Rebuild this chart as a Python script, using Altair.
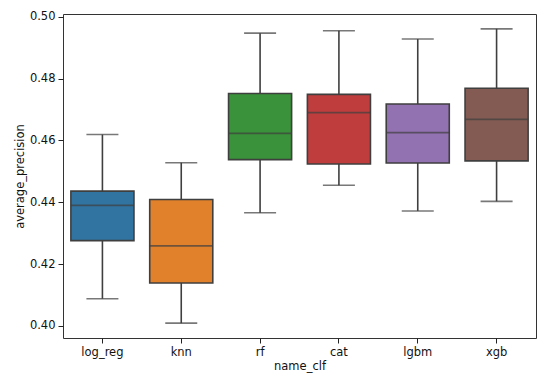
import altair as alt
import pandas as pd

categories = ["log_reg", "knn", "rf", "cat", "lgbm", "xgb"]
whisker_low = [0.4088, 0.4009, 0.4366, 0.4455, 0.4372, 0.4403]
q1 = [0.4276, 0.4139, 0.4538, 0.4524, 0.4527, 0.4534]
median = [0.4390, 0.4259, 0.4623, 0.4690, 0.4625, 0.4668]
q3 = [0.4436, 0.4409, 0.4752, 0.4749, 0.4718, 0.4769]
whisker_high = [0.4619, 0.4528, 0.4947, 0.4955, 0.4928, 0.4961]
colors = ["#3274a1", "#e1812c", "#3a923a", "#c03d3e", "#9372b2", "#845b53"]

df = pd.DataFrame({
    "name_clf": categories,
    "lo": whisker_low,
    "q1": q1,
    "med": median,
    "q3": q3,
    "hi": whisker_high,
})

edge = "#3f3f3f"
font = "DejaVu Sans"

x = alt.X(
    "name_clf:N",
    sort=categories,
    title="name_clf",
    scale=alt.Scale(paddingInner=0.2, paddingOuter=0.1),
    axis=alt.Axis(labelAngle=0, tickSize=5, labelPadding=3, titlePadding=3,
                  domain=False, tickColor="#222", labelColor="#111",
                  labelFont=font, titleFont=font, labelFontSize=11.5,
                  titleFontSize=11.5, titleFontWeight="normal", titleColor="#111"),
)
yscale = alt.Scale(domain=[0.3961, 0.5009], nice=False, zero=False)
yaxis = alt.Axis(values=[0.40, 0.42, 0.44, 0.46, 0.48, 0.50], format=".2f",
                 grid=False, tickSize=5, labelPadding=3, titlePadding=4,
                 domain=False, tickColor="#222", labelColor="#111",
                 labelFont=font, titleFont=font, labelFontSize=11.5,
                 titleFontSize=11.5, titleFontWeight="normal", titleColor="#111")

base = alt.Chart(df)

lower = base.mark_rule(color=edge, strokeWidth=1.6).encode(
    x=x, y=alt.Y("lo:Q", scale=yscale, axis=yaxis, title="average_precision"), y2="q1:Q")
upper = base.mark_rule(color=edge, strokeWidth=1.6).encode(
    x=x, y=alt.Y("q3:Q", scale=yscale), y2="hi:Q")
box = base.mark_bar(stroke=edge, strokeWidth=1.6).encode(
    x=x, y=alt.Y("q1:Q", scale=yscale), y2="q3:Q",
    color=alt.Color("name_clf:N", scale=alt.Scale(domain=categories, range=colors), legend=None))
med = base.mark_tick(color=edge, size=63, thickness=1.8).encode(
    x=x, y=alt.Y("med:Q", scale=yscale))
cap_lo = base.mark_tick(color=edge, size=32, thickness=1.6).encode(
    x=x, y=alt.Y("lo:Q", scale=yscale))
cap_hi = base.mark_tick(color=edge, size=32, thickness=1.6).encode(
    x=x, y=alt.Y("hi:Q", scale=yscale))

chart = alt.layer(lower, upper, box, med, cap_lo, cap_hi).properties(
    width=473, height=324,
    autosize=alt.AutoSizeParams(type="none"),
    padding={"left": 55, "top": 6, "right": 10, "bottom": 42},
    background="white",
).configure_view(stroke="#333", strokeWidth=1)

chart.save("out.html", embed_options={"renderer": "svg", "actions": False})
